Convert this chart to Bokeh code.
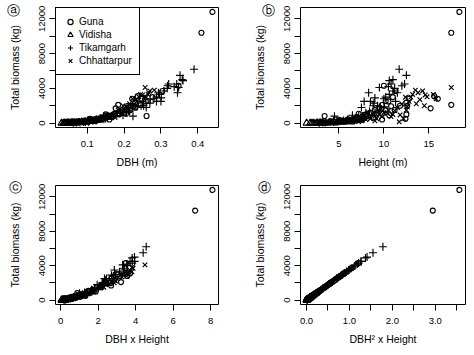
import math
from bokeh.plotting import figure
from bokeh.models import Range1d, FixedTicker
from bokeh.layouts import gridplot
from bokeh.embed import file_html
from bokeh.resources import INLINE

# ---------------- data ----------------
guna_dbh = [0.44, 0.41, 0.184, 0.222, 0.237, 0.177, 0.150, 0.107, 0.211, 0.348,
            0.304, 0.261, 0.231, 0.199, 0.259, 0.277, 0.168, 0.137, 0.119, 0.092,
            0.075, 0.058, 0.217, 0.188, 0.218, 0.204, 0.248, 0.160, 0.130, 0.100,
            0.085, 0.065, 0.050, 0.140, 0.175, 0.195, 0.225, 0.120, 0.090, 0.155,
            0.230, 0.110, 0.070, 0.105, 0.125, 0.145, 0.165, 0.185, 0.205, 0.245,
            0.265, 0.060]
guna_height = [18.4, 17.5, 17.5, 16.0, 15.6, 15.2, 12.5, 12.4, 12.6, 10.0,
               11.3, 3.4, 9.5, 8.5, 10.5, 11.0, 7.0, 6.0, 5.0, 4.0,
               3.0, 2.5, 9.0, 8.0, 11.8, 10.2, 12.8, 4.6, 6.8, 5.5,
               3.8, 3.2, 2.8, 8.8, 9.8, 11.2, 10.8, 7.5, 6.5, 10.6,
               12.5, 9.8, 4.5, 6.2, 5.2, 7.8, 8.2, 9.2, 7.2, 9.8,
               10.2, 3.6]
guna_biomass = [12800, 10400, 2100, 2800, 3100, 1700, 1000, 500, 2000, 4300,
                3700, 820, 1800, 1200, 2500, 3000, 700, 400, 250, 120,
                60, 30, 1500, 1000, 2000, 1500, 2800, 420, 410, 195,
                97, 48, 25, 610, 1070, 1510, 1940, 385, 187, 905,
                2350, 420, 78, 243, 288, 582, 793, 1118, 1074, 2088,
                2543, 46]

vidisha_dbh = [0.035, 0.0375, 0.041, 0.048, 0.057, 0.070, 0.079, 0.092, 0.101, 0.119,
               0.132, 0.142, 0.156, 0.168, 0.039, 0.0555, 0.030, 0.045, 0.060, 0.085,
               0.110, 0.125, 0.050, 0.065, 0.075, 0.095, 0.105, 0.115]
vidisha_height = [1.4, 2.0, 2.5, 3.0, 3.5, 4.0, 4.5, 5.0, 5.5, 6.0,
                  6.5, 7.0, 7.5, 8.0, 2.2, 3.2, 1.8, 2.6, 4.2, 5.8,
                  6.2, 7.2, 2.9, 3.9, 4.8, 5.2, 6.6, 5.0]
vidisha_biomass = [6, 10, 15, 25, 40, 70, 100, 150, 200, 300,
                   400, 500, 650, 800, 12, 35, 6, 19, 54, 149,
                   266, 400, 26, 58, 96, 167, 258, 235]

tikamgarh_dbh = [0.390, 0.352, 0.358, 0.343, 0.321, 0.336, 0.317, 0.345, 0.293, 0.301,
                 0.281, 0.288, 0.246, 0.260, 0.288, 0.250, 0.318, 0.197, 0.224, 0.206,
                 0.211, 0.155, 0.124, 0.145, 0.103, 0.080, 0.106, 0.253, 0.296, 0.308,
                 0.300, 0.180, 0.165, 0.135, 0.090, 0.190, 0.230, 0.062, 0.360, 0.348,
                 0.070, 0.115, 0.150, 0.170, 0.215, 0.235, 0.270, 0.095]
tikamgarh_height = [11.7, 12.5, 11.0, 10.8, 12.3, 10.5, 11.2, 8.3, 11.5, 9.0,
                    10.0, 8.5, 9.3, 7.5, 10.2, 11.3, 12.0, 6.5, 4.5, 8.0,
                    9.5, 7.0, 5.5, 6.0, 4.0, 3.5, 5.0, 8.8, 10.6, 11.0,
                    7.8, 7.2, 8.6, 7.8, 4.8, 9.0, 10.0, 2.8, 10.6, 9.5,
                    3.2, 5.8, 6.8, 7.6, 8.4, 9.6, 8.9, 4.4]
tikamgarh_biomass = [6200, 5500, 5000, 4500, 4500, 4200, 4000, 3500, 3500, 2900,
                     2800, 2500, 2000, 1800, 3000, 2500, 4300, 900, 800, 1200,
                     1500, 600, 300, 450, 150, 80, 200, 2000, 3300, 3700,
                     2500, 830, 830, 505, 138, 1150, 1880, 38, 4900, 4100,
                     56, 272, 543, 780, 1378, 1882, 2303, 141]

chhattarpur_dbh = [0.060, 0.107, 0.184, 0.235, 0.255, 0.282, 0.267, 0.233, 0.270, 0.197,
                   0.245, 0.223, 0.257, 0.200, 0.160, 0.158, 0.119, 0.110, 0.097, 0.082,
                   0.065, 0.184, 0.210, 0.227, 0.265, 0.172, 0.140, 0.125, 0.190, 0.215,
                   0.240, 0.050, 0.075, 0.090, 0.150, 0.260, 0.072, 0.100, 0.130, 0.145,
                   0.175, 0.205, 0.250, 0.085]
chhattarpur_height = [11.7, 12.2, 12.5, 12.8, 13.0, 13.5, 13.8, 14.0, 14.3, 14.5,
                      15.5, 15.8, 17.5, 10.5, 11.0, 9.0, 8.0, 7.0, 6.0, 5.0,
                      4.0, 10.0, 11.5, 12.0, 13.2, 9.5, 10.8, 9.2, 11.2, 13.6,
                      14.8, 3.0, 6.5, 9.0, 11.8, 12.4, 5.5, 7.5, 8.5, 9.8,
                      10.4, 12.6, 14.6, 7.2]
chhattarpur_biomass = [150, 500, 1500, 2500, 3000, 3800, 3500, 2700, 3700, 2000,
                       3300, 2800, 4100, 1500, 1000, 800, 400, 300, 200, 120,
                       60, 1200, 1800, 2200, 3300, 1000, 750, 510, 1435, 2230,
                       3030, 27, 130, 260, 940, 2980, 101, 266, 510, 731,
                       1131, 1880, 3239, 185]

site_names = ["Guna", "Vidisha", "Tikamgarh", "Chhattarpur"]
y_ticks = [0, 2000, 4000, 6000, 8000, 10000, 12000]
y_tick_labels = ["0", "", "4000", "", "8000", "", "12000"]

a_ticks = [0.1, 0.2, 0.3, 0.4]
b_ticks = [5, 10, 15]
c_ticks = [0, 2, 4, 6, 8]
d_ticks = [0.0, 0.5, 1.0, 1.5, 2.0, 2.5, 3.0, 3.5]
d_tick_labels = ["0.0", "", "1.0", "", "2.0", "", "3.0", ""]

panel_letters = ["\u24D0", "\u24D1", "\u24D2", "\u24D3"]  # circled a, b, c, d

# ---------------- styling ----------------
FONT = "Liberation Sans"
markers = {"Guna": ("circle", 5), "Vidisha": ("triangle", 7),
           "Tikamgarh": ("cross", 8), "Chhattarpur": ("x", 6.5)}

groups = {
    "Guna": (guna_dbh, guna_height, guna_biomass),
    "Vidisha": (vidisha_dbh, vidisha_height, vidisha_biomass),
    "Tikamgarh": (tikamgarh_dbh, tikamgarh_height, tikamgarh_biomass),
    "Chhattarpur": (chhattarpur_dbh, chhattarpur_height, chhattarpur_biomass),
}


def padded(vals):
    lo, hi = min(vals), max(vals)
    pad = 0.04 * (hi - lo)
    return Range1d(lo - pad, hi + pad)


all_b = [b for g in groups.values() for b in g[2]]


def xvals(kind, d, h):
    if kind == "a":
        return list(d)
    if kind == "b":
        return list(h)
    if kind == "c":
        return [di * hi for di, hi in zip(d, h)]
    return [di * di * hi for di, hi in zip(d, h)]


def make_panel(kind, ticks, tick_labels, xlabel, height, bl, br, bt, bb,
               letter, loff, lstand, legend=False):
    allx = []
    for name in site_names:
        d, h, b = groups[name]
        allx += xvals(kind, d, h)
    p = figure(width=237, height=height, x_range=padded(allx), y_range=padded(all_b),
               output_backend="svg", toolbar_location=None,
               min_border_left=bl, min_border_right=br,
               min_border_top=bt, min_border_bottom=bb)
    p.xgrid.visible = False
    p.ygrid.visible = False
    p.outline_line_color = "black"
    p.outline_line_width = 1
    p.outline_line_alpha = 1
    p.background_fill_color = "white"
    p.border_fill_color = "white"

    for name in site_names:
        d, h, b = groups[name]
        m, s = markers[name]
        kw = dict(marker=m, size=s, fill_color=None, line_color="black", line_width=1.15)
        if legend:
            kw["legend_label"] = name
        p.scatter(xvals(kind, d, h), b, **kw)

    p.xaxis.ticker = FixedTicker(ticks=ticks)
    if tick_labels is not None:
        p.xaxis.major_label_overrides = {t: l for t, l in zip(ticks, tick_labels)}
    p.yaxis.ticker = FixedTicker(ticks=y_ticks)
    p.yaxis.major_label_overrides = {t: l for t, l in zip(y_ticks, y_tick_labels)}
    p.xaxis.axis_label = xlabel
    p.yaxis.axis_label = "Total biomass (kg)"
    for ax in (p.xaxis[0], p.yaxis[0]):
        ax.axis_line_color = None
        ax.major_tick_out = 6
        ax.major_tick_in = 0
        ax.minor_tick_out = 0
        ax.minor_tick_in = 0
        ax.major_tick_line_color = "black"
        ax.major_tick_line_width = 1
        ax.major_label_text_font = FONT
        ax.major_label_text_font_size = "9.5px"
        ax.major_label_text_color = "black"
        ax.axis_label_text_font = FONT
        ax.axis_label_text_font_size = "10.5px"
        ax.axis_label_text_font_style = "normal"
        ax.axis_label_text_color = "black"
    p.xaxis.major_label_standoff = 7
    p.xaxis.axis_label_standoff = 6
    p.yaxis.major_label_standoff = 4
    p.yaxis.axis_label_standoff = 16
    p.yaxis.major_label_orientation = "parallel"

    # circled panel letter, drawn through the (otherwise empty) title
    p.title.text = letter
    p.title.align = "left"
    p.title.vertical_align = "bottom"
    p.title.offset = loff
    p.title.standoff = lstand
    p.title.text_font = "DejaVu Sans"
    p.title.text_font_size = "13px"
    p.title.text_font_style = "normal"
    p.title.text_color = "black"

    if legend:
        leg = p.legend[0]
        leg.location = "top_left"
        leg.margin = 0
        leg.padding = 7
        leg.spacing = 0
        leg.label_height = 13
        leg.glyph_height = 13
        leg.glyph_width = 14
        leg.label_standoff = 2
        leg.label_text_font = FONT
        leg.label_text_font_size = "10px"
        leg.label_text_color = "black"
        leg.border_line_color = "black"
        leg.border_line_width = 1
        leg.border_line_alpha = 1
        leg.background_fill_alpha = 1
    return p


pa = make_panel("a", a_ticks, None, "DBH (m)", 177, 55, 19, 7, 50,
                panel_letters[0], -49, -21, legend=True)
pb = make_panel("b", b_ticks, None, "Height (m)", 177, 63, 9, 7, 50,
                panel_letters[1], -39, -20)
pc = make_panel("c", c_ticks, None, "DBH x Height", 178, 54, 19, 8, 51,
                panel_letters[2], -47, -18)
pd_ = make_panel("d", d_ticks, d_tick_labels, "DBH\u00B2 x Height", 178, 63, 9, 8, 51,
                 panel_letters[3], -43, -19)

grid = gridplot([[pa, pb], [pc, pd_]], toolbar_location=None)
open("out.html", "w").write(file_html(grid, INLINE))
